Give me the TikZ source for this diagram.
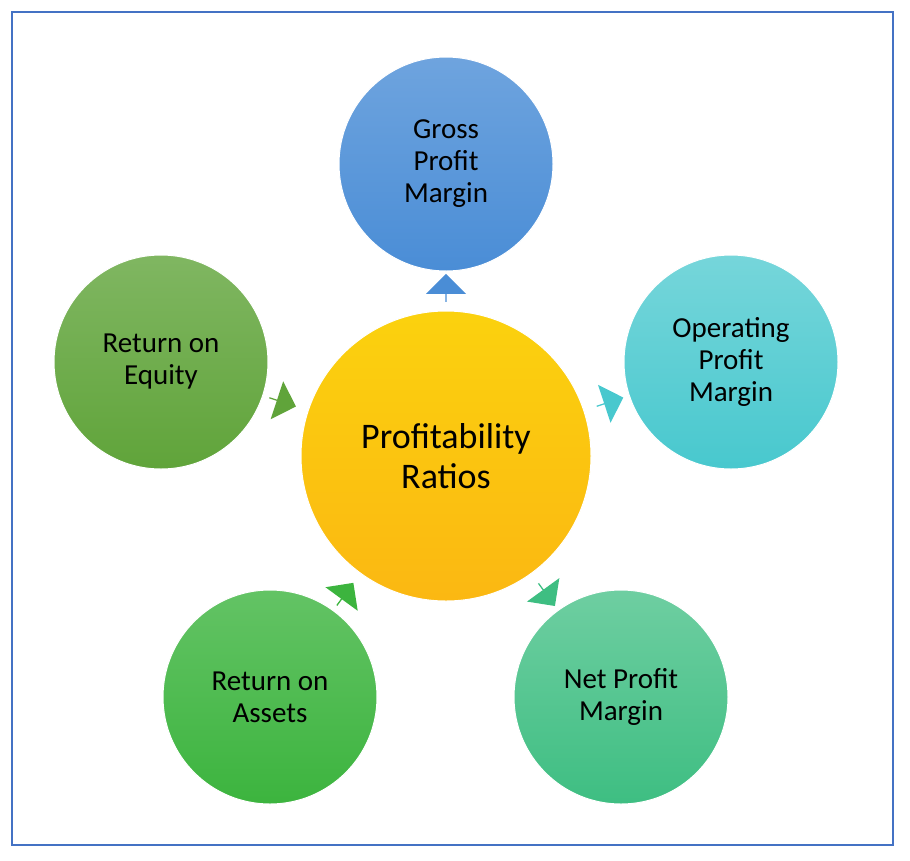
\documentclass[tikz,border=0pt]{standalone}
\usepackage{fontspec}
\setmainfont{Carlito}
\usetikzlibrary{shapes.arrows}

\tikzset{
  ratio/.style={circle,minimum size=214pt,inner sep=0pt,align=center,
    font=\fontsize{29}{32}\selectfont,draw=white,line width=1pt},
  tip/.style={single arrow,minimum height=28pt,minimum width=40pt,
    single arrow head extend=6pt,inner sep=0pt,fill=#1,draw=none}
}

\begin{document}
\begin{tikzpicture}[x=1pt,y=-1pt]
\useasboundingbox (0,0) rectangle (910,860);
\draw[color={rgb,255:red,68;green,114;blue,196},line width=1.2pt] (12,12) rectangle (893,845);

\definecolor{cblue}{RGB}{74,141,214}
\definecolor{cteal}{RGB}{72,200,206}
\definecolor{cnet}{RGB}{62,190,130}
\definecolor{cass}{RGB}{60,180,62}
\definecolor{cequ}{RGB}{96,164,58}
\definecolor{cgold}{RGB}{250,190,20}

\node[ratio,top color=cblue!80!white,bottom color=cblue] (G) at (446,164) {Gross\\Profit\\Margin};
\node[ratio,top color=cteal!75!white,bottom color=cteal] (O) at (731,362) {Operating\\Profit\\Margin};
\node[ratio,top color=cnet!75!white,bottom color=cnet] (N) at (621,697) {Net Profit\\Margin};
\node[ratio,top color=cass!80!white,bottom color=cass] (A) at (270,697) {Return on\\Assets};
\node[ratio,top color=cequ!80!white,bottom color=cequ] (E) at (161,362) {Return on\\Equity};
\node[ratio,minimum size=290pt,font=\fontsize{36}{40}\selectfont,
  top color=cgold!70!yellow,bottom color=cgold!90!orange] (C) at (446,456) {Profitability\\Ratios};

\path (C) -- (G) node[pos=0.57,sloped,tip=cblue] (tG) {};
\path (C) -- (O) node[pos=0.57,sloped,tip=cteal] (tO) {};
\path (C) -- (N) node[pos=0.57,sloped,tip=cnet] (tN) {};
\path (C) -- (A) node[pos=0.57,sloped,tip=cass] (tA) {};
\path (C) -- (E) node[pos=0.57,sloped,tip=cequ] (tE) {};
\end{tikzpicture}
\end{document}
